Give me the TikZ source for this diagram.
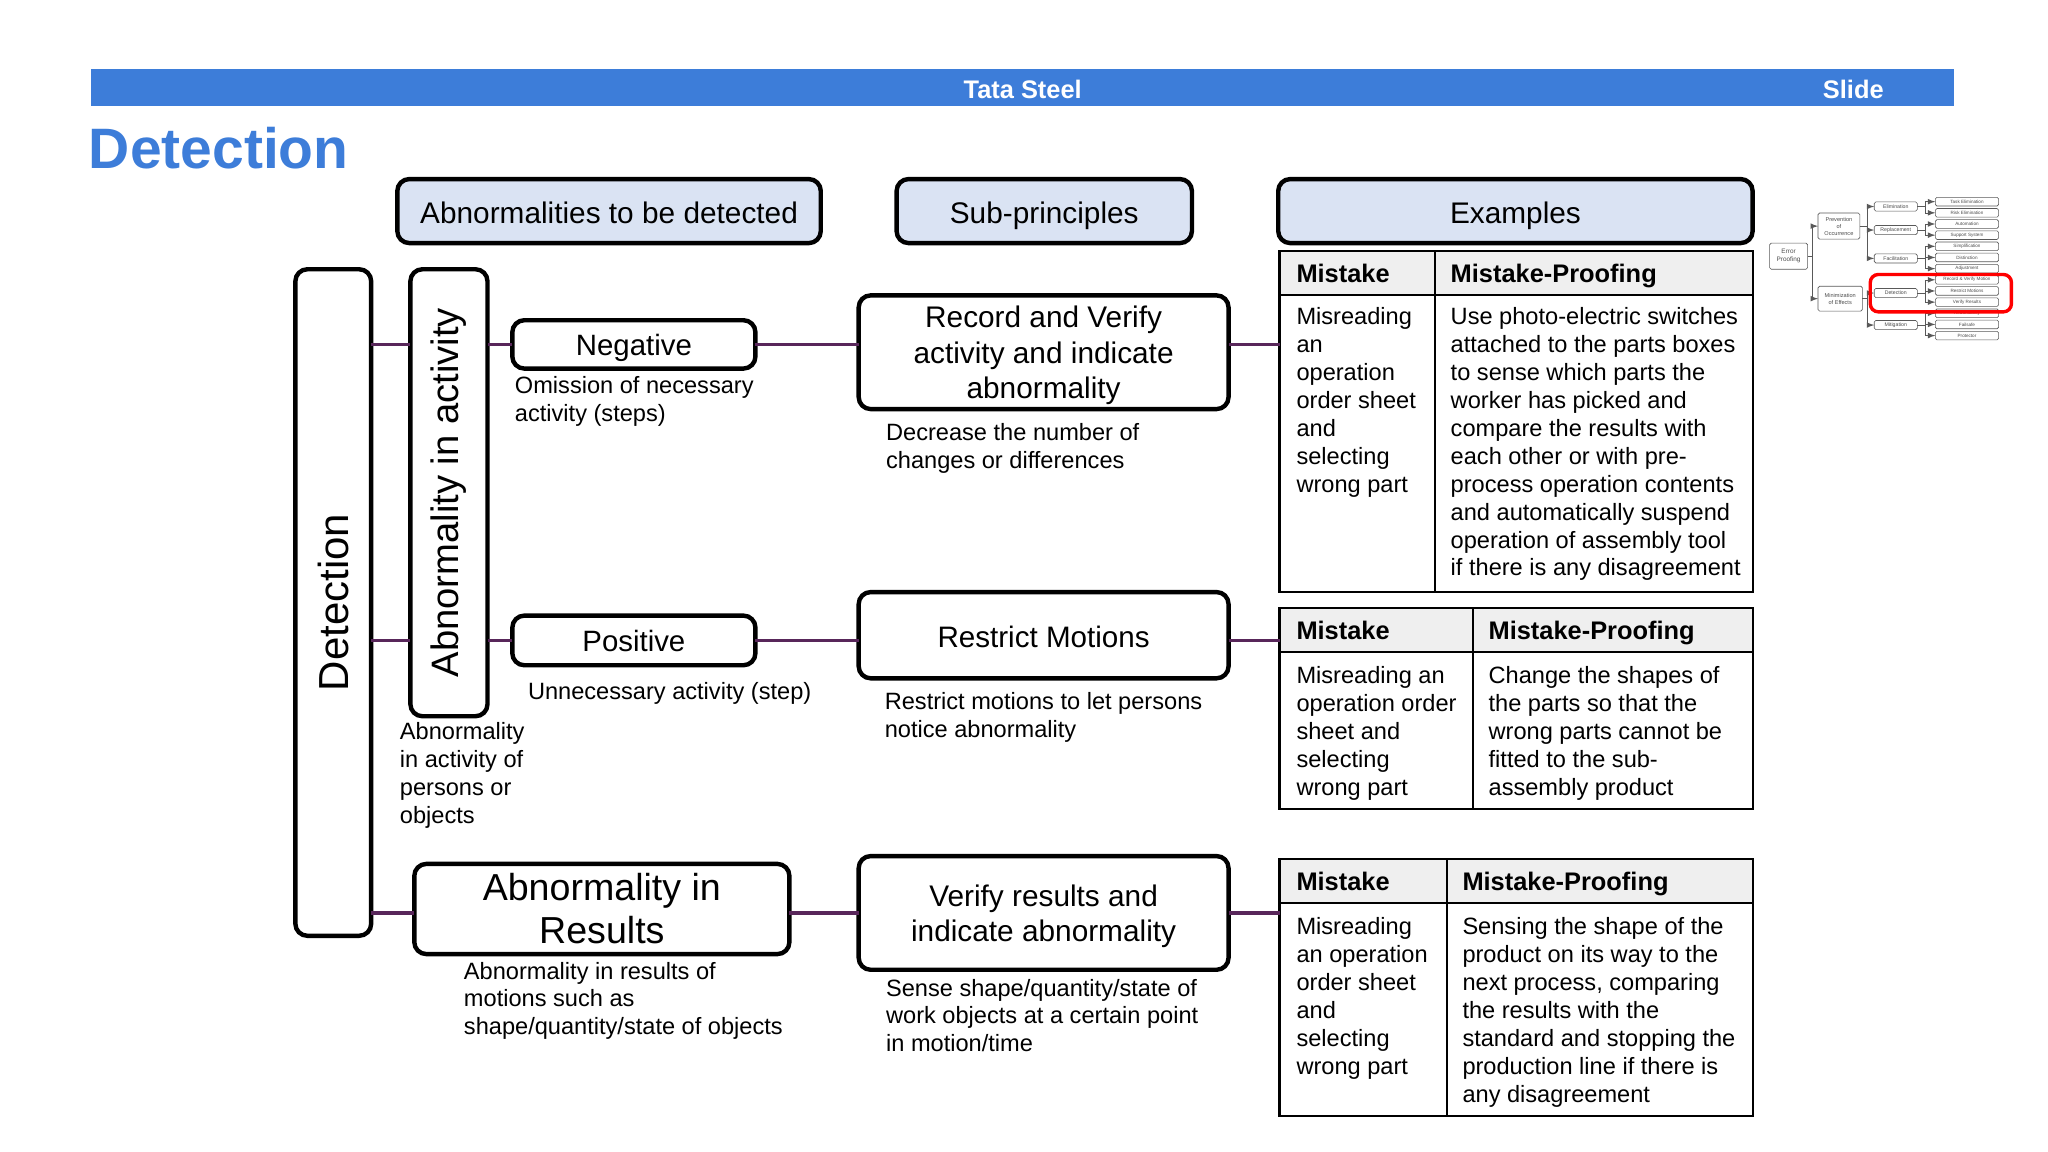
\documentclass[tikz,border=0pt]{standalone}
\usepackage{graphicx}
\usepackage{fontspec}
\setmainfont{Liberation Sans}
\usetikzlibrary{arrows,%
                positioning}
\definecolor{slideblue}{RGB}{61,125,217}
\definecolor{headfill}{RGB}{218,227,243}
\definecolor{rowfill}{RGB}{239,239,239}
\definecolor{linkpurple}{RGB}{88,38,90}
\newdimen\upx \upx=0.6535pt

\begin{document}
\begin{tikzpicture}[x=0.6535pt, y=-0.6535pt,
  every node/.style={inner sep=0pt, outer sep=0pt},
  oneline/.style={text height=#1, text depth=0pt},
  oneline/.default=11pt,
  headbox/.style={draw, line width=2.2pt, rounded corners=6pt, fill=headfill, oneline=12.5pt,
    minimum height=49\upx, font=\fontsize{14.9}{17}\selectfont},
  rbox/.style={draw, line width=2.2pt, rounded corners=6pt, fill=white, align=center},
  boxtext/.style={align=center, font=\fontsize{14.9}{17.7}\selectfont},
  desc/.style={anchor=north west, align=left, font=\fontsize{11.8}{13.95}\selectfont,
    execute at begin node=\strut},
  tbl/.style={draw, line width=1.1pt, minimum width=362\upx},
  tline/.style={line width=1.1pt},
  thead/.style={anchor=west, oneline=9.5pt,
    font=\fontsize{12.7}{15}\selectfont\bfseries},
  link/.style={draw=linkpurple, line width=1.6pt},
  minibox/.style={draw=black!65, line width=0.3pt, rounded corners=0.8pt, fill=white,
    align=center, text=black!70, font=\fontsize{2.3}{2.7}\selectfont},
  tarrow/.style={-latex, draw=black!65, line width=0.3pt}]
\useasboundingbox (0,0) rectangle (1567,881);

% title bar
\node[fill=slideblue, minimum width=1425\upx, minimum height=28\upx] (bar) at (782.5,67) {};
\node[text=white, oneline=10.5pt, font=\fontsize{12.7}{15}\selectfont\bfseries] at (bar.center) {Tata Steel};
\node[text=white, oneline=10.5pt, font=\fontsize{12.7}{15}\selectfont\bfseries] (slide) at (1418,67) {Slide};
\node[anchor=base west, text=slideblue, font=\fontsize{28.5}{32}\selectfont\bfseries] (title) at (68,129) {Detection};

% column heads
\node[headbox, minimum width=324\upx] (abn) at (466,161.5) {Abnormalities to be detected};
\node[headbox, minimum width=226\upx] (sub) at (799,161.5) {Sub-principles};
\node[headbox, minimum width=363\upx] (exa) at (1159.5,161.5) {Examples};

% left column
\node[rbox, minimum width=58\upx, minimum height=510\upx, font=\fontsize{21}{24}\selectfont] (det) at (255,461) {\rotatebox{90}{Detection}};
\node[rbox, minimum width=59\upx, minimum height=342\upx, font=\fontsize{19.1}{22}\selectfont] (act) at (343.5,377) {\rotatebox{90}{Abnormality in activity}};
\node[rbox, oneline, minimum width=186\upx, minimum height=37\upx, font=\fontsize{14.7}{17}\selectfont] (neg) at (485,263.5) {Negative};
\node[rbox, oneline, minimum width=186\upx, minimum height=38\upx, font=\fontsize{14.7}{17}\selectfont] (pos) at (485,490) {Positive};
\node[rbox, minimum width=287\upx, minimum height=69\upx, font=\fontsize{18.8}{21.5}\selectfont] (res) at (460.5,695.5) {Abnormality in\\Results};

\node[desc] (negd) at (394,288) {Omission of necessary\\activity (steps)};
\node[desc] (posd) at (404,520) {Unnecessary activity (step)};
\node[desc] (actd) at (306,553) {Abnormality\\in activity of\\persons or\\objects};
\node[desc] (resd) at (355,736) {Abnormality in results of\\motions such as\\shape/quantity/state of objects};

% sub-principles
\node[rbox, minimum width=283\upx, minimum height=87\upx] (rec) at (798.5,269.5) {};
\node[boxtext] (rect) at ([yshift=-1.6pt]rec.center) {Record and Verify\\activity and indicate\\abnormality};
\node[rbox, oneline=12.7pt, minimum width=283\upx, minimum height=66\upx, font=\fontsize{14.8}{17}\selectfont] (rst) at (798.5,486) {Restrict Motions};
\node[rbox, minimum width=283\upx, minimum height=87\upx] (ver) at (798.5,698.5) {};
\node[boxtext] (vert) at ([yshift=-1.6pt]ver.center) {Verify results and\\indicate abnormality};

\node[desc] (recd) at (678,324) {Decrease the number of\\changes or differences};
\node[desc] (rstd) at (677,530) {Restrict motions to let persons\\notice abnormality};
\node[desc] (verd) at (678,749) {Sense shape/quantity/state of\\work objects at a certain point\\in motion/time};

% example tables
\foreach \nm/\top/\bot/\col in {t1/192/453/1098, t2/465/619/1127, t3/657/854/1107}{
  \node[tbl, minimum height={(\bot-\top)*\upx}] (\nm) at (1160,{(\top+\bot)/2}) {};
  \draw[tline, fill=rowfill] (979,\top) rectangle (1341,{\top+34});
  \draw[tline] (\col,\top) -- (\col,\bot);
  \node[thead] at (992,{\top+17}) {Mistake};
  \node[thead] at ({\col+12},{\top+17}) {Mistake-Proofing};
}
\node[desc] (m1) at (992,235.5) {Misreading\\an\\operation\\order sheet\\and\\selecting\\wrong part};
\node[desc] (p1) at (1110,235.5) {Use photo-electric switches\\attached to the parts boxes\\to sense which parts the\\worker has picked and\\compare the results with\\each other or with pre-\\process operation contents\\and automatically suspend\\operation of assembly tool\\if there is any disagreement};
\node[desc] (m2) at (992,510) {Misreading an\\operation order\\sheet and\\selecting\\wrong part};
\node[desc] (p2) at (1139,510) {Change the shapes of\\the parts so that the\\wrong parts cannot be\\fitted to the sub-\\assembly product};
\node[desc] (m3) at (992,702) {Misreading\\an operation\\order sheet\\and\\selecting\\wrong part};
\node[desc] (p3) at (1119,702) {Sensing the shape of the\\product on its way to the\\next process, comparing\\the results with the\\standard and stopping the\\production line if there is\\any disagreement};

% connectors
\draw[link] (det.east |- neg.west) -- (act.west |- neg.west);
\draw[link] (act.east |- neg.west) -- (neg.west);
\draw[link] (neg.east) -- (rec.west |- neg.east);
\draw[link] (rec.east |- neg.east) -- (t1.west |- neg.east);
\draw[link] (det.east |- pos.west) -- (act.west |- pos.west);
\draw[link] (act.east |- pos.west) -- (pos.west);
\draw[link] (pos.east) -- (rst.west |- pos.east);
\draw[link] (rst.east |- pos.east) -- (t2.west |- pos.east);
\draw[link] (det.east |- ver.west) -- (res.west |- ver.west);
\draw[link] (res.east |- ver.west) -- (ver.west);
\draw[link] (ver.east) -- (t3.west |- ver.east);

% overview thumbnail
\node[minibox, minimum width=29\upx, minimum height=20\upx, font=\fontsize{3.2}{3.9}\selectfont] (err) at (1368.5,196) {Error\\Proofing};
\node[minibox, minimum width=32\upx, minimum height=20\upx, font=\fontsize{2.8}{3.5}\selectfont] (prev) at (1407,173) {Prevention\\of\\Occurrence};
\node[minibox, minimum width=34\upx, minimum height=19\upx, font=\fontsize{2.8}{3.5}\selectfont] (mini) at (1408,228.5) {Minimization\\of Effects};
\node[minibox, minimum width=33\upx, minimum height=7\upx, font=\fontsize{2.6}{3}\selectfont] (elim) at (1450.5,158) {Elimination};
\node[minibox, minimum width=33\upx, minimum height=7\upx, font=\fontsize{2.6}{3}\selectfont] (repl) at (1450.5,176) {Replacement};
\node[minibox, minimum width=33\upx, minimum height=7\upx, font=\fontsize{2.6}{3}\selectfont] (faci) at (1450.5,197.7) {Facilitation};
\node[minibox, minimum width=33\upx, minimum height=7\upx, font=\fontsize{2.6}{3}\selectfont] (dete) at (1450.5,224.2) {Detection};
\node[minibox, minimum width=33\upx, minimum height=7\upx, font=\fontsize{2.6}{3}\selectfont] (miti) at (1450.5,248.7) {Mitigation};
\foreach \lbl [count=\k from 0] in {Task Elimination, Risk Elimination, Automation, Support System,
    Simplification, Distinction, Adjustment, Record \& Verify Motion, Restrict Motions,
    Verify Results, Redundancy, Failsafe, Protector}
  \node[minibox, minimum width=48.5\upx, minimum height=6.6\upx] (tl\k) at (1505,{154.3+8.54*\k}) {\lbl};
\foreach \dst in {prev, mini}
  \draw[tarrow] (err.east) -- ++(4,0) |- (\dst.west);
\foreach \dst in {elim, repl, faci}
  \draw[tarrow] (prev.east) -- ++(5.5,0) |- (\dst.west);
\foreach \dst in {dete, miti}
  \draw[tarrow] (mini.east) -- ++(3.5,0) |- (\dst.west);
\foreach \src/\dst in {elim/tl0, elim/tl1, repl/tl2, repl/tl3, faci/tl4, faci/tl5, faci/tl6,
    dete/tl7, dete/tl8, dete/tl9, miti/tl10, miti/tl11, miti/tl12}
  \draw[tarrow] (\src.east) -- ++(6,0) |- (\dst.west);
%\draw[help lines] (0,0) grid[step=100] (1567,881);
\draw[red, line width=1.7pt, rounded corners=4pt] (1431,210) rectangle (1539,238.6);
\end{tikzpicture}
\end{document}
